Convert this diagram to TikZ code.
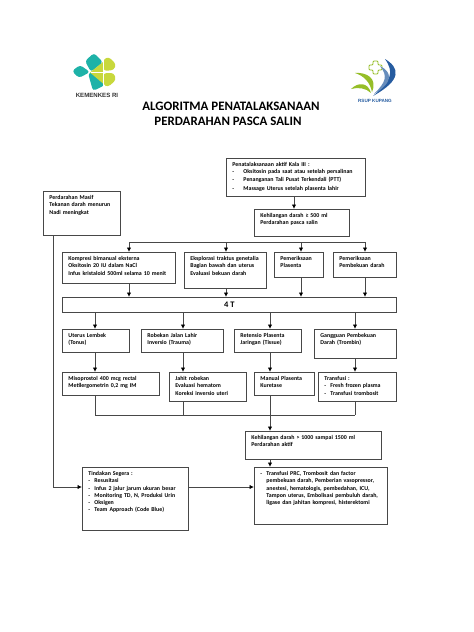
\documentclass[tikz,border=0pt]{standalone}
\usepackage{fontspec}
\setmainfont{Carlito}
\newfontfamily\logofont{Liberation Sans}
\usetikzlibrary{arrows.meta}
\definecolor{rulegray}{RGB}{72,72,72}
\definecolor{ketoska}{RGB}{30,178,168}
\definecolor{kelime}{RGB}{200,216,60}
\definecolor{rsblue}{RGB}{38,92,160}
\definecolor{rsgreen}{RGB}{150,190,40}
\tikzset{
box/.style n args={2}{
  draw=rulegray,
  line width=0.9pt,
  anchor=north west,
  align=left,
  font=\fontsize{5.9}{7.3}\selectfont\bfseries,
  inner xsep=6pt,
  inner ysep=2.5pt,
  text width={#1pt-12pt},
  text height=5.5pt,
  text depth={#2pt-10.5pt}
},
line/.style={draw=rulegray,line width=0.9pt},
arr/.style={line,-{Latex[black,length=4.5pt,width=4.5pt]}},
title/.style={font=\fontsize{12.9}{15}\selectfont\bfseries,inner sep=0pt},
}
\newcommand{\dashitem}[1]{\makebox[6pt][l]{-}#1}
\begin{document}
\begin{tikzpicture}[x=1pt,y=-1pt]
\useasboundingbox (0,0) rectangle (474,632);
% the left logo
\begin{scope}[rounded corners=3pt]
\fill[ketoska] (90,72) -- (80,65) -- (72,71) -- (79,78) -- cycle;
\fill[ketoska] (94,53) -- (85,61) -- (91,72) -- (103,62) -- cycle;
\fill[ketoska] (88,73) -- (93,91) -- (105,85) -- (102,72) -- cycle;
\fill[kelime] (103.5,71) -- (103.5,59) -- (109,57) -- (116,64) -- (114,70) -- cycle;
\fill[kelime] (103.5,73) -- (114,73) -- (116,80) -- (108,87) -- (103.5,85) -- cycle;
\end{scope}
\fill[kelime] (90,72.5) -- (103,62) -- (103,83.5) -- cycle;
\draw[white,line width=0.7pt] (91,72) -- (116,72) (103.3,59) -- (103.3,86);
\node[inner sep=0pt,font=\logofont\fontsize{6.1}{7}\selectfont\bfseries,text=black!80] (kemenkes) at (97,95.5) {KEMENKES RI};
% the right logo
\draw[rsgreen,line width=0.9pt,rounded corners=1pt] (373,61) -- (378,61) -- (378,65) -- (382,65) -- (382,70) -- (378,70) -- (378,74) -- (373,74) -- (373,70) -- (369,70) -- (369,65) -- (373,65) -- cycle;
\fill[rsblue] (385,59) .. controls (400,68) and (402,80) .. (373,96) .. controls (392,80) and (394,72) .. (385,59) -- cycle;
\fill[rsblue!70] (380,66) .. controls (392,72) and (394,82) .. (374,94) .. controls (386,82) and (388,76) .. (380,66) -- cycle;
\fill[rsgreen] (355,73) .. controls (366,72) and (378,78) .. (372,92) .. controls (370,82) and (364,76) .. (355,73) -- cycle;
\fill[rsgreen] (351,89) .. controls (358,82) and (368,82) .. (371,93) .. controls (366,88) and (358,87) .. (351,89) -- cycle;
\node[inner sep=0pt,font=\logofont\fontsize{4.6}{5}\selectfont\bfseries,text=rsblue] (kupang) at (375,100.5) {RSUP KUPANG};
% the title
\node[title] (line1) at (231,106) {ALGORITMA PENATALAKSANAAN};
\node[title] (line2) at (228,121) {PERDARAHAN PASCA SALIN};
% the boxes
\node[box={139}{38}] (aktif) at (226,158) {Penatalaksanaan aktif Kala III :\\
\makebox[11pt][l]{-}Oksitosin pada saat atau setelah persalinan\\
\makebox[11pt][l]{-}Penanganan Tali Pusat Terkendali (PTT)\\[2.4pt]
\makebox[11pt][l]{-}Massage Uterus setelah plasenta lahir};
\node[box={95}{27}] (loss) at (254,209) {Kehilangan darah ≥ 500 ml\\Perdarahan pasca salin};
\node[box={77}{44}] (masif) at (43,191) {Perdarahan Masif\\Tekanan darah menurun\\Nadi meningkat};
\node[box={113}{31}] (kompresi) at (62,252) {Kompresi bimanual eksterna\\Oksitosin 20 IU dalam NaCl\\Infus kristaloid 500ml selama 10 menit};
\node[box={82}{36}] (eksplorasi) at (184,252) {Eksplorasi traktus genetalia\\Bagian bawah dan uterus\\Evaluasi bekuan darah};
\node[box={49}{25}] (plasenta) at (274,252) {Pemeriksaan\\Plasenta};
\node[box={63}{25}] (beku) at (333,252) {Pemeriksaan\\Pembekuan darah};
\node[draw=rulegray,line width=0.9pt,anchor=north west,minimum width=334pt,minimum height=15pt,inner sep=0pt,font=\fontsize{8.5}{9}\selectfont\bfseries] (empatT) at (62,297) {4 T};
\node[box={67}{23}] (tonus) at (62,329) {Uterus Lembek\\(Tonus)};
\node[box={82}{23}] (trauma) at (141,329) {Robekan Jalan Lahir\\Inversio (Trauma)};
\node[box={67}{23}] (tissue) at (234,329) {Retensio Plasenta\\Jaringan (Tissue)};
\node[box={82}{29}] (trombin) at (314,329) {Gangguan Pembekuan\\Darah (Trombin)};
\node[box={97}{23}] (miso) at (62,372) {Misoprostol 400 mcg rectal\\Metilergometrin 0,2 mg IM};
\node[box={77}{29}] (jahit) at (169,372) {Jahit robekan\\Evaluasi hematom\\Koreksi inversio uteri};
\node[box={60}{23}] (manual) at (254,372) {Manual Plasenta\\Kuretase};
\node[box={78}{29}] (transfusi) at (318,372) {Transfusi :\\\dashitem{Fresh frozen plasma}\\\dashitem{Transfusi trombosit}};
\node[box={136}{28}] (aktifloss) at (245,431) {Kehilangan darah > 1000 sampai 1500 ml\\Perdarahan aktif};
\node[box={106}{63}] (segera) at (82,467) {Tindakan Segera :\\\dashitem{Resusitasi}\\\dashitem{Infus 2 jalur jarum ukuran besar}\\\dashitem{Monitoring TD, N, Produksi Urin}\\\dashitem{Oksigen}\\\dashitem{Team Approach (Code Blue)}};
\node[box={133}{57}] (prc) at (254,467) {\dashitem{Transfusi PRC, Trombosit dan factor}\\\hspace*{6pt}pembekuan darah, Pemberian vasopressor,\\\hspace*{6pt}anestesi, hematologis, pembedahan, ICU,\\\hspace*{6pt}Tampon uterus, Embolisasi pembuluh darah,\\\hspace*{6pt}ligase dan jahitan kompresi, histerektomi};
% the bus lines
\coordinate (top) at (294,209);
\coordinate (busA) at (129,242);
\coordinate (busB) at (226,242);
\coordinate (busC) at (301,242);
\coordinate (busD) at (365,242);
\coordinate (colA) at (95,415);
\coordinate (colB) at (183,415);
\coordinate (colC) at (270,415);
\coordinate (colD) at (355,415);
\coordinate (turn) at (53,487);
% the arrows
\draw[arr] (top |- aktif.south) -- (top);
\draw[line] (busA) -- (busD);
\foreach \n/\b in {busA/kompresi,busB/eksplorasi,busC/plasenta,busD/beku}
{
  \draw[arr] (\n) -- (\n |- \b.north);
  \draw[arr] (\n |- \b.south) -- (\n |- empatT.north);
}
\foreach \n/\a/\b in {colA/tonus/miso,colB/trauma/jahit,colC/tissue/manual,colD/trombin/transfusi}
{
  \draw[arr] (\n |- empatT.south) -- (\n |- \a.north);
  \draw[arr] (\n |- \a.south) -- (\n |- \b.north);
  \draw[line] (\n |- \b.south) -- (\n);
}
\draw[line] (colA) -- (colD);
\draw[arr] (colC) -- (colC |- aktifloss.north);
\draw[arr] (colC |- aktifloss.south) -- (colC |- prc.north);
\draw[line] (turn |- masif.south) -- (turn);
\draw[arr] (turn) -- (turn -| segera.west);
\draw[arr] (turn -| segera.east) -- (turn -| prc.west);
\end{tikzpicture}
\end{document}
